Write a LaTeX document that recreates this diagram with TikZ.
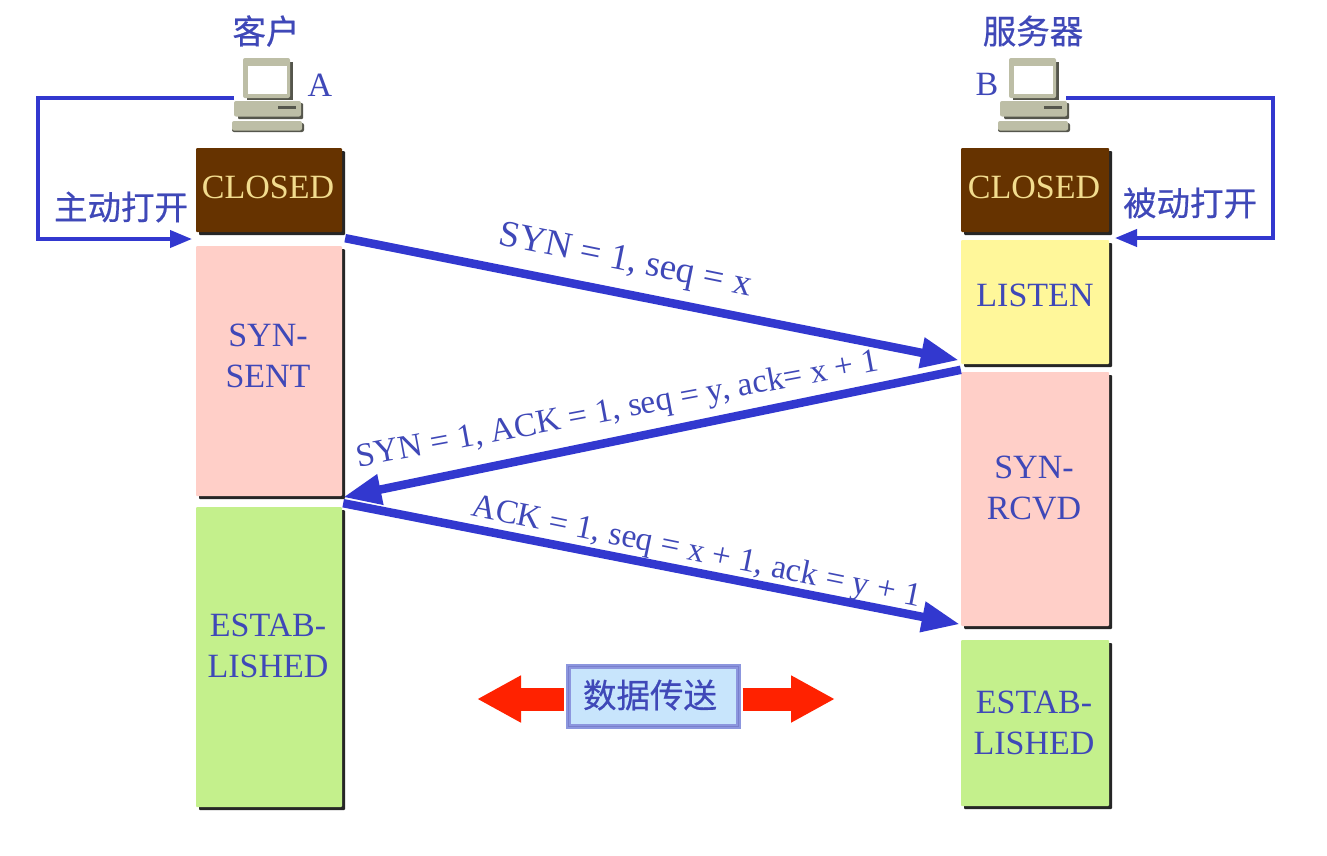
\documentclass[tikz,border=0pt]{standalone}
\usepackage{fontspec}
\setmainfont{Liberation Serif}
\newfontfamily\cjk[FakeBold=0.5]{Noto Sans CJK SC}
\usetikzlibrary{arrows.meta,shadows}
\definecolor{lblue}{HTML}{3F48B8}
\definecolor{lineblue}{HTML}{3238CF}
\definecolor{brownbox}{HTML}{663300}
\definecolor{closedtxt}{HTML}{F2DC8E}
\definecolor{pinkbox}{HTML}{FFCFC8}
\definecolor{yellowbox}{HTML}{FFF79A}
\definecolor{greenbox}{HTML}{C4F08C}
\definecolor{pcbody}{HTML}{BDBEA6}
\definecolor{pcdark}{HTML}{55564C}
\definecolor{dataframe}{HTML}{8C96DE}
\definecolor{datafill}{HTML}{C8E5FC}
\definecolor{bigred}{HTML}{FF2200}
\tikzset{
  statebox/.style={minimum width=146pt,inner sep=0pt,rounded corners=1pt,
    drop shadow={shadow xshift=3pt,shadow yshift=-3pt,fill=black!85,opacity=1}},
  statetxt/.style={text=lblue,font=\fontsize{34}{41.5}\selectfont,align=center,inner sep=0pt},
  cjktxt/.style={text=lblue,font=\cjk\fontsize{33.5}{36}\selectfont,inner sep=0pt},
  msgtxt/.style={text=lblue,inner sep=0pt},
  thinarrow/.style={draw=lineblue,line width=4pt,-{Triangle[length=22pt,width=17pt]}},
  thickarrow/.style={draw=lineblue,line width=8.5pt,-{Triangle[length=38pt,width=29pt]}},
  redarrow/.style={draw=bigred,line width=23pt,-{Triangle[length=44pt,width=44pt]}},
}
\newcommand{\pcicon}[1]{%
  \begin{scope}[shift={(#1,0)}]
    \fill[pcdark] (247,62) rectangle (293,100);
    \fill[pcbody,rounded corners=2pt] (243,58) rectangle (290,98);
    \fill[white] (248,66) rectangle (287,94);
    \fill[pcdark,rounded corners=1pt] (238,103) rectangle (303,119);
    \fill[pcbody,rounded corners=2pt] (234,101) rectangle (301,116.5);
    \fill[pcdark] (278,106) rectangle (296,108.5);
    \fill[pcdark,rounded corners=2pt] (232,123) rectangle (304,132);
    \fill[pcbody,rounded corners=2pt] (232,121) rectangle (302,130.5);
  \end{scope}}
\begin{document}
\begin{tikzpicture}[x=1pt,y=-1pt]
\useasboundingbox (0,0) rectangle (1327,855);
\fill[white] (0,0) rectangle (1327,855);

% computers
\pcicon{0}
\pcicon{766}
\coordinate (pcAport) at (234,98);
\coordinate (pcBport) at (1066,98);
\coordinate (cornerA1) at (38,98);
\coordinate (cornerA2) at (38,239);
\coordinate (cornerB1) at (1273,98);
\coordinate (cornerB2) at (1273,238);
\coordinate (inA) at (192,239);
\coordinate (inB) at (1115,238);

% state boxes, client
\node[statebox,fill=brownbox,minimum height=84pt] (closedA) at (269,190) {};
\node[statebox,fill=pinkbox,minimum height=250pt] (sent) at (269,371) {};
\node[statebox,fill=greenbox,minimum height=300pt] (estA) at (269,657) {};
% state boxes, server
\node[statebox,fill=brownbox,minimum width=148pt,minimum height=84pt] (closedB) at (1035,190) {};
\node[statebox,fill=yellowbox,minimum width=148pt,minimum height=124pt] (listen) at (1035,302) {};
\node[statebox,fill=pinkbox,minimum width=148pt,minimum height=254pt] (rcvd) at (1035,499) {};
\node[statebox,fill=greenbox,minimum width=148pt,minimum height=166pt] (estB) at (1035,723) {};

% state texts
\node[statetxt,text=closedtxt] (tclosedA) at (268,187) {CLOSED};
\node[statetxt,text=closedtxt] (tclosedB) at (1034,187) {CLOSED};
\node[statetxt] (tsent) at (268,356) {SYN-\\SENT};
\node[statetxt] (tlisten) at (1035,295) {LISTEN};
\node[statetxt] (trcvd) at (1034,488) {SYN-\\RCVD};
\node[statetxt] (testA) at (268,646) {ESTAB-\\LISHED};
\node[statetxt] (testB) at (1034,723) {ESTAB-\\LISHED};

% titles
\node[cjktxt] (client) at (266,31) {客户};
\node[cjktxt] (server) at (1033,31) {服务器};
\node[statetxt] (lblA) at (320,85) {A};
\node[statetxt] (lblB) at (987,84) {B};
\node[cjktxt] (active) at (121,207) {主动打开};
\node[cjktxt] (passive) at (1190,203) {被动打开};

% open connectors
\draw[thinarrow] (pcAport) -- (cornerA1) -- (cornerA2) -- (inA);
\draw[thinarrow] (pcBport) -- (cornerB1) -- (cornerB2) -- (inB);

% handshake
\coordinate (a1s) at ([xshift=3pt,yshift=-6pt]closedA.south east);
\coordinate (a1e) at ([xshift=-2pt,yshift=4pt]listen.south west);
\coordinate (a2s) at ([xshift=0pt,yshift=2pt]rcvd.north west);
\coordinate (a2e) at ([xshift=1pt,yshift=-1pt]sent.south east);
\coordinate (a3s) at ([xshift=1pt,yshift=-7pt]sent.south east);
\coordinate (a3e) at ([xshift=-1pt,yshift=2pt]rcvd.south west);
\draw[thickarrow] (a1s) -- (a1e);
\draw[thickarrow] (a2s) -- (a2e);
\draw[thickarrow] (a3s) -- (a3e);

\node[msgtxt,rotate=-11.5,font=\fontsize{37}{40}\selectfont] (m1) at (625,262) {SYN = 1, seq = x};
\node[msgtxt,rotate=10.5,font=\fontsize{33.5}{40}\selectfont] (m2) at (618,411) {SYN = 1, ACK = 1, seq = y, ack= x + 1};
\node[msgtxt,rotate=-11.5,font=\fontsize{33.5}{40}\selectfont] (m3) at (696,553) {ACK = 1, seq = x + 1, ack = y + 1};

% data transfer
\coordinate (tipL) at (477,699);
\coordinate (tipR) at (835,699);
\node[minimum width=170pt,minimum height=60pt,inner sep=0pt,fill=datafill,draw=dataframe,line width=5pt] (data) at (653,696.5) {};
\draw[redarrow] ([xshift=-2pt,yshift=-2.5pt]data.west) -- (tipL);
\draw[redarrow] ([xshift=2pt,yshift=-2.5pt]data.east) -- (tipR);
\draw[lblue!70,line width=.8pt] ([xshift=2.5pt,yshift=2.5pt]data.south west) rectangle ([xshift=-2.5pt,yshift=-2.5pt]data.north east);
\node[cjktxt] (tdata) at (650,695) {数据传送};
\end{tikzpicture}
\end{document}
